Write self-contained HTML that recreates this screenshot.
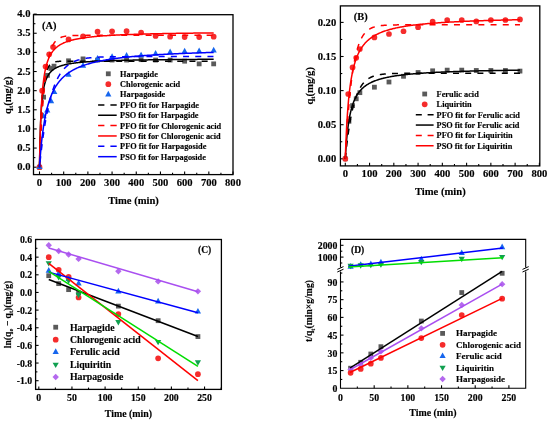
<!DOCTYPE html>
<html><head><meta charset="utf-8"><style>
html,body{margin:0;padding:0;background:#fff;}
svg{display:block;filter:blur(0.45px);}
text{font-family:"Liberation Serif","DejaVu Serif",serif;font-weight:bold;fill:#000;stroke:#000;stroke-width:0.15px;}
</style></head><body>
<svg width="550" height="421" viewBox="0 0 550 421">
<rect width="550" height="421" fill="#fff"/>
<rect x="33.5" y="14.7" width="199.5" height="159.9" fill="none" stroke="#000" stroke-width="1.3"/>
<line x1="33.5" y1="167.2" x2="36.7" y2="167.2" stroke="#000" stroke-width="1.1" stroke-linecap="butt"/>
<text x="30.5" y="170.3" font-size="10.6" text-anchor="end">0.0</text>
<line x1="33.5" y1="157.63" x2="35.4" y2="157.63" stroke="#000" stroke-width="1.1" stroke-linecap="butt"/>
<line x1="33.5" y1="148.06" x2="36.7" y2="148.06" stroke="#000" stroke-width="1.1" stroke-linecap="butt"/>
<text x="30.5" y="151.16" font-size="10.6" text-anchor="end">0.5</text>
<line x1="33.5" y1="138.5" x2="35.4" y2="138.5" stroke="#000" stroke-width="1.1" stroke-linecap="butt"/>
<line x1="33.5" y1="128.93" x2="36.7" y2="128.93" stroke="#000" stroke-width="1.1" stroke-linecap="butt"/>
<text x="30.5" y="132.03" font-size="10.6" text-anchor="end">1.0</text>
<line x1="33.5" y1="119.36" x2="35.4" y2="119.36" stroke="#000" stroke-width="1.1" stroke-linecap="butt"/>
<line x1="33.5" y1="109.79" x2="36.7" y2="109.79" stroke="#000" stroke-width="1.1" stroke-linecap="butt"/>
<text x="30.5" y="112.89" font-size="10.6" text-anchor="end">1.5</text>
<line x1="33.5" y1="100.23" x2="35.4" y2="100.23" stroke="#000" stroke-width="1.1" stroke-linecap="butt"/>
<line x1="33.5" y1="90.66" x2="36.7" y2="90.66" stroke="#000" stroke-width="1.1" stroke-linecap="butt"/>
<text x="30.5" y="93.76" font-size="10.6" text-anchor="end">2.0</text>
<line x1="33.5" y1="81.09" x2="35.4" y2="81.09" stroke="#000" stroke-width="1.1" stroke-linecap="butt"/>
<line x1="33.5" y1="71.52" x2="36.7" y2="71.52" stroke="#000" stroke-width="1.1" stroke-linecap="butt"/>
<text x="30.5" y="74.62" font-size="10.6" text-anchor="end">2.5</text>
<line x1="33.5" y1="61.96" x2="35.4" y2="61.96" stroke="#000" stroke-width="1.1" stroke-linecap="butt"/>
<line x1="33.5" y1="52.39" x2="36.7" y2="52.39" stroke="#000" stroke-width="1.1" stroke-linecap="butt"/>
<text x="30.5" y="55.49" font-size="10.6" text-anchor="end">3.0</text>
<line x1="33.5" y1="42.82" x2="35.4" y2="42.82" stroke="#000" stroke-width="1.1" stroke-linecap="butt"/>
<line x1="33.5" y1="33.25" x2="36.7" y2="33.25" stroke="#000" stroke-width="1.1" stroke-linecap="butt"/>
<text x="30.5" y="36.35" font-size="10.6" text-anchor="end">3.5</text>
<line x1="33.5" y1="23.69" x2="35.4" y2="23.69" stroke="#000" stroke-width="1.1" stroke-linecap="butt"/>
<line x1="33.5" y1="14.12" x2="36.7" y2="14.12" stroke="#000" stroke-width="1.1" stroke-linecap="butt"/>
<text x="30.5" y="17.22" font-size="10.6" text-anchor="end">4.0</text>
<line x1="39.5" y1="174.6" x2="39.5" y2="171.4" stroke="#000" stroke-width="1.1" stroke-linecap="butt"/>
<text x="39.5" y="186.2" font-size="10.6" text-anchor="middle">0</text>
<line x1="51.59" y1="174.6" x2="51.59" y2="172.7" stroke="#000" stroke-width="1.1" stroke-linecap="butt"/>
<line x1="63.69" y1="174.6" x2="63.69" y2="171.4" stroke="#000" stroke-width="1.1" stroke-linecap="butt"/>
<text x="63.69" y="186.2" font-size="10.6" text-anchor="middle">100</text>
<line x1="75.78" y1="174.6" x2="75.78" y2="172.7" stroke="#000" stroke-width="1.1" stroke-linecap="butt"/>
<line x1="87.88" y1="174.6" x2="87.88" y2="171.4" stroke="#000" stroke-width="1.1" stroke-linecap="butt"/>
<text x="87.88" y="186.2" font-size="10.6" text-anchor="middle">200</text>
<line x1="99.97" y1="174.6" x2="99.97" y2="172.7" stroke="#000" stroke-width="1.1" stroke-linecap="butt"/>
<line x1="112.07" y1="174.6" x2="112.07" y2="171.4" stroke="#000" stroke-width="1.1" stroke-linecap="butt"/>
<text x="112.07" y="186.2" font-size="10.6" text-anchor="middle">300</text>
<line x1="124.17" y1="174.6" x2="124.17" y2="172.7" stroke="#000" stroke-width="1.1" stroke-linecap="butt"/>
<line x1="136.26" y1="174.6" x2="136.26" y2="171.4" stroke="#000" stroke-width="1.1" stroke-linecap="butt"/>
<text x="136.26" y="186.2" font-size="10.6" text-anchor="middle">400</text>
<line x1="148.36" y1="174.6" x2="148.36" y2="172.7" stroke="#000" stroke-width="1.1" stroke-linecap="butt"/>
<line x1="160.45" y1="174.6" x2="160.45" y2="171.4" stroke="#000" stroke-width="1.1" stroke-linecap="butt"/>
<text x="160.45" y="186.2" font-size="10.6" text-anchor="middle">500</text>
<line x1="172.55" y1="174.6" x2="172.55" y2="172.7" stroke="#000" stroke-width="1.1" stroke-linecap="butt"/>
<line x1="184.64" y1="174.6" x2="184.64" y2="171.4" stroke="#000" stroke-width="1.1" stroke-linecap="butt"/>
<text x="184.64" y="186.2" font-size="10.6" text-anchor="middle">600</text>
<line x1="196.74" y1="174.6" x2="196.74" y2="172.7" stroke="#000" stroke-width="1.1" stroke-linecap="butt"/>
<line x1="208.83" y1="174.6" x2="208.83" y2="171.4" stroke="#000" stroke-width="1.1" stroke-linecap="butt"/>
<text x="208.83" y="186.2" font-size="10.6" text-anchor="middle">700</text>
<line x1="220.93" y1="174.6" x2="220.93" y2="172.7" stroke="#000" stroke-width="1.1" stroke-linecap="butt"/>
<line x1="233.02" y1="174.6" x2="233.02" y2="171.4" stroke="#000" stroke-width="1.1" stroke-linecap="butt"/>
<text x="233.02" y="186.2" font-size="10.6" text-anchor="middle">800</text>
<text transform="translate(133.5,204) scale(1,1.05)" font-size="10.6" text-anchor="middle">Time (min)</text>
<text transform="translate(11.0,95.2) rotate(-90)" font-size="10.6" text-anchor="middle">q<tspan font-size="6.5" dy="2">t</tspan><tspan dy="-2">(mg/g)</tspan></text>
<text x="42.1" y="29.2" font-size="10.4" text-anchor="start">(A)</text>
<rect x="37.1" y="164.8" width="4.8" height="4.8" fill="#5a5a5a"/>
<rect x="41.21" y="94.77" width="4.8" height="4.8" fill="#5a5a5a"/>
<rect x="45.08" y="72.95" width="4.8" height="4.8" fill="#5a5a5a"/>
<rect x="48.47" y="66.06" width="4.8" height="4.8" fill="#5a5a5a"/>
<rect x="51.61" y="63.77" width="4.8" height="4.8" fill="#5a5a5a"/>
<rect x="66.13" y="58.41" width="4.8" height="4.8" fill="#5a5a5a"/>
<rect x="80.64" y="56.5" width="4.8" height="4.8" fill="#5a5a5a"/>
<rect x="95.16" y="57.64" width="4.8" height="4.8" fill="#5a5a5a"/>
<rect x="109.67" y="57.64" width="4.8" height="4.8" fill="#5a5a5a"/>
<rect x="124.18" y="57.64" width="4.8" height="4.8" fill="#5a5a5a"/>
<rect x="138.7" y="57.26" width="4.8" height="4.8" fill="#5a5a5a"/>
<rect x="153.21" y="57.64" width="4.8" height="4.8" fill="#5a5a5a"/>
<rect x="167.73" y="57.64" width="4.8" height="4.8" fill="#5a5a5a"/>
<rect x="182.24" y="58.79" width="4.8" height="4.8" fill="#5a5a5a"/>
<rect x="196.75" y="61.47" width="4.8" height="4.8" fill="#5a5a5a"/>
<rect x="211.27" y="61.47" width="4.8" height="4.8" fill="#5a5a5a"/>
<circle cx="39.5" cy="167.2" r="2.85" fill="#f52c2c"/>
<circle cx="42.16" cy="90.66" r="2.85" fill="#f52c2c"/>
<circle cx="45.55" cy="66.55" r="2.85" fill="#f52c2c"/>
<circle cx="49.18" cy="54.3" r="2.85" fill="#f52c2c"/>
<circle cx="53.05" cy="47.03" r="2.85" fill="#f52c2c"/>
<circle cx="68.53" cy="39.38" r="2.85" fill="#f52c2c"/>
<circle cx="83.04" cy="36.32" r="2.85" fill="#f52c2c"/>
<circle cx="97.56" cy="31.72" r="2.85" fill="#f52c2c"/>
<circle cx="112.07" cy="31.34" r="2.85" fill="#f52c2c"/>
<circle cx="126.58" cy="31.15" r="2.85" fill="#f52c2c"/>
<circle cx="141.1" cy="32.49" r="2.85" fill="#f52c2c"/>
<circle cx="155.61" cy="35.93" r="2.85" fill="#f52c2c"/>
<circle cx="170.13" cy="36.7" r="2.85" fill="#f52c2c"/>
<circle cx="184.64" cy="37.08" r="2.85" fill="#f52c2c"/>
<circle cx="199.15" cy="37.08" r="2.85" fill="#f52c2c"/>
<circle cx="213.67" cy="36.7" r="2.85" fill="#f52c2c"/>
<polygon points="39.5,163.4 42.6,169.1 36.4,169.1" fill="#1666ee"/>
<polygon points="43.61,112.5 46.71,118.2 40.51,118.2" fill="#1666ee"/>
<polygon points="47.24,106.76 50.34,112.46 44.14,112.46" fill="#1666ee"/>
<polygon points="51.11,97.58 54.21,103.28 48.01,103.28" fill="#1666ee"/>
<polygon points="54.26,88.39 57.36,94.09 51.16,94.09" fill="#1666ee"/>
<polygon points="68.53,71.17 71.63,76.87 65.43,76.87" fill="#1666ee"/>
<polygon points="83.04,61.98 86.14,67.68 79.94,67.68" fill="#1666ee"/>
<polygon points="97.56,55.1 100.66,60.8 94.46,60.8" fill="#1666ee"/>
<polygon points="112.07,53.18 115.17,58.88 108.97,58.88" fill="#1666ee"/>
<polygon points="126.58,52.03 129.68,57.73 123.48,57.73" fill="#1666ee"/>
<polygon points="141.1,51.65 144.2,57.35 138,57.35" fill="#1666ee"/>
<polygon points="155.61,50.12 158.71,55.82 152.51,55.82" fill="#1666ee"/>
<polygon points="170.13,48.59 173.23,54.29 167.03,54.29" fill="#1666ee"/>
<polygon points="184.64,47.82 187.74,53.52 181.54,53.52" fill="#1666ee"/>
<polygon points="199.15,47.44 202.25,53.14 196.05,53.14" fill="#1666ee"/>
<polygon points="213.67,46.68 216.77,52.38 210.57,52.38" fill="#1666ee"/>
<polyline points="39.5,167.2 39.5,167.1 39.51,166.79 39.53,166.27 39.55,165.56 39.58,164.65 39.61,163.54 39.65,162.25 39.69,160.79 39.74,159.15 39.8,157.35 39.87,155.4 39.94,153.31 40.01,151.1 40.09,148.76 40.18,146.32 40.27,143.78 40.37,141.17 40.48,138.49 40.59,135.75 40.71,132.97 40.83,130.15 40.96,127.32 41.1,124.48 41.24,121.65 41.39,118.83 41.54,116.03 41.7,113.27 41.87,110.55 42.04,107.88 42.22,105.27 42.41,102.73 42.6,100.25 42.79,97.85 43,95.54 43.2,93.3 43.42,91.15 43.64,89.1 43.87,87.13 44.1,85.25 44.34,83.47 44.58,81.78 44.83,80.18 45.09,78.67 45.35,77.25 45.62,75.91 45.9,74.66 46.18,73.49 46.47,72.41 46.76,71.39 47.06,70.45 47.36,69.59 47.68,68.78 47.99,68.05 48.32,67.37 48.65,66.74 48.98,66.17 49.32,65.65 49.67,65.18 50.03,64.75 50.39,64.36 50.75,64.01 51.12,63.69 51.5,63.4 51.89,63.15 52.28,62.92 52.67,62.71 53.07,62.52 53.48,62.36 53.9,62.21 54.32,62.08 54.74,61.97 55.18,61.87 55.61,61.78 56.06,61.7 56.51,61.63 56.97,61.57 57.43,61.52 57.9,61.47 58.37,61.43 58.85,61.4 59.34,61.37 59.83,61.34 60.33,61.32 60.84,61.3 61.35,61.28 61.86,61.27 62.39,61.26 62.92,61.25 63.45,61.24 63.99,61.23 64.54,61.23 65.09,61.22 65.65,61.22 66.22,61.21 66.79,61.21 67.37,61.21 67.95,61.2 68.54,61.2 69.14,61.2 69.74,61.2 70.35,61.2 70.96,61.2 71.58,61.2 72.2,61.19 72.84,61.19 73.47,61.19 74.12,61.19 74.77,61.19 75.43,61.19 76.09,61.19 76.76,61.19 77.43,61.19 78.11,61.19 78.8,61.19 79.49,61.19 80.19,61.19 80.89,61.19 81.6,61.19 82.32,61.19 83.04,61.19 83.77,61.19 84.51,61.19 85.25,61.19 85.99,61.19 86.75,61.19 87.51,61.19 88.27,61.19 89.04,61.19 89.82,61.19 90.6,61.19 91.39,61.19 92.19,61.19 92.99,61.19 93.79,61.19 94.61,61.19 95.43,61.19 96.25,61.19 97.08,61.19 97.92,61.19 98.77,61.19 99.62,61.19 100.47,61.19 101.33,61.19 102.2,61.19 103.07,61.19 103.95,61.19 104.84,61.19 105.73,61.19 106.63,61.19 107.53,61.19 108.44,61.19 109.36,61.19 110.28,61.19 111.21,61.19 112.15,61.19 113.09,61.19 114.03,61.19 114.98,61.19 115.94,61.19 116.91,61.19 117.88,61.19 118.86,61.19 119.84,61.19 120.83,61.19 121.82,61.19 122.82,61.19 123.83,61.19 124.84,61.19 125.86,61.19 126.89,61.19 127.92,61.19 128.95,61.19 130,61.19 131.05,61.19 132.1,61.19 133.16,61.19 134.23,61.19 135.3,61.19 136.38,61.19 137.47,61.19 138.56,61.19 139.66,61.19 140.76,61.19 141.87,61.19 142.99,61.19 144.11,61.19 145.24,61.19 146.37,61.19 147.51,61.19 148.66,61.19 149.81,61.19 150.97,61.19 152.13,61.19 153.3,61.19 154.48,61.19 155.66,61.19 156.85,61.19 158.04,61.19 159.24,61.19 160.45,61.19 161.66,61.19 162.88,61.19 164.11,61.19 165.34,61.19 166.57,61.19 167.82,61.19 169.06,61.19 170.32,61.19 171.58,61.19 172.85,61.19 174.12,61.19 175.4,61.19 176.68,61.19 177.98,61.19 179.27,61.19 180.58,61.19 181.89,61.19 183.2,61.19 184.52,61.19 185.85,61.19 187.18,61.19 188.52,61.19 189.87,61.19 191.22,61.19 192.58,61.19 193.94,61.19 195.31,61.19 196.69,61.19 198.07,61.19 199.46,61.19 200.85,61.19 202.25,61.19 203.66,61.19 205.07,61.19 206.49,61.19 207.91,61.19 209.34,61.19 210.78,61.19 212.22,61.19 213.67,61.19" fill="none" stroke="#000" stroke-width="1.5" stroke-linejoin="round" stroke-dasharray="6,6.2"/>
<polyline points="39.5,167.2 39.5,166.99 39.51,166.38 39.53,165.38 39.55,164.01 39.58,162.29 39.61,160.27 39.65,157.98 39.69,155.46 39.74,152.76 39.8,149.91 39.87,146.95 39.94,143.92 40.01,140.86 40.09,137.79 40.18,134.73 40.27,131.72 40.37,128.76 40.48,125.87 40.59,123.06 40.71,120.34 40.83,117.72 40.96,115.2 41.1,112.78 41.24,110.47 41.39,108.25 41.54,106.14 41.7,104.12 41.87,102.21 42.04,100.38 42.22,98.64 42.41,96.99 42.6,95.42 42.79,93.93 43,92.51 43.2,91.17 43.42,89.89 43.64,88.67 43.87,87.52 44.1,86.42 44.34,85.38 44.58,84.38 44.83,83.44 45.09,82.54 45.35,81.69 45.62,80.87 45.9,80.09 46.18,79.35 46.47,78.65 46.76,77.97 47.06,77.33 47.36,76.71 47.68,76.13 47.99,75.57 48.32,75.03 48.65,74.52 48.98,74.02 49.32,73.55 49.67,73.1 50.03,72.67 50.39,72.26 50.75,71.86 51.12,71.48 51.5,71.11 51.89,70.76 52.28,70.42 52.67,70.09 53.07,69.78 53.48,69.48 53.9,69.19 54.32,68.91 54.74,68.64 55.18,68.38 55.61,68.13 56.06,67.89 56.51,67.66 56.97,67.43 57.43,67.22 57.9,67.01 58.37,66.81 58.85,66.61 59.34,66.42 59.83,66.24 60.33,66.06 60.84,65.89 61.35,65.72 61.86,65.56 62.39,65.41 62.92,65.26 63.45,65.11 63.99,64.97 64.54,64.83 65.09,64.7 65.65,64.57 66.22,64.44 66.79,64.32 67.37,64.2 67.95,64.09 68.54,63.98 69.14,63.87 69.74,63.76 70.35,63.66 70.96,63.56 71.58,63.46 72.2,63.37 72.84,63.28 73.47,63.19 74.12,63.1 74.77,63.02 75.43,62.93 76.09,62.85 76.76,62.77 77.43,62.7 78.11,62.62 78.8,62.55 79.49,62.48 80.19,62.41 80.89,62.34 81.6,62.28 82.32,62.21 83.04,62.15 83.77,62.09 84.51,62.03 85.25,61.97 85.99,61.91 86.75,61.86 87.51,61.8 88.27,61.75 89.04,61.7 89.82,61.64 90.6,61.59 91.39,61.55 92.19,61.5 92.99,61.45 93.79,61.41 94.61,61.36 95.43,61.32 96.25,61.27 97.08,61.23 97.92,61.19 98.77,61.15 99.62,61.11 100.47,61.07 101.33,61.03 102.2,61 103.07,60.96 103.95,60.93 104.84,60.89 105.73,60.86 106.63,60.82 107.53,60.79 108.44,60.76 109.36,60.73 110.28,60.69 111.21,60.66 112.15,60.63 113.09,60.6 114.03,60.58 114.98,60.55 115.94,60.52 116.91,60.49 117.88,60.47 118.86,60.44 119.84,60.41 120.83,60.39 121.82,60.36 122.82,60.34 123.83,60.31 124.84,60.29 125.86,60.27 126.89,60.24 127.92,60.22 128.95,60.2 130,60.18 131.05,60.16 132.1,60.14 133.16,60.12 134.23,60.09 135.3,60.07 136.38,60.06 137.47,60.04 138.56,60.02 139.66,60 140.76,59.98 141.87,59.96 142.99,59.94 144.11,59.93 145.24,59.91 146.37,59.89 147.51,59.88 148.66,59.86 149.81,59.84 150.97,59.83 152.13,59.81 153.3,59.8 154.48,59.78 155.66,59.77 156.85,59.75 158.04,59.74 159.24,59.72 160.45,59.71 161.66,59.69 162.88,59.68 164.11,59.67 165.34,59.65 166.57,59.64 167.82,59.63 169.06,59.61 170.32,59.6 171.58,59.59 172.85,59.58 174.12,59.56 175.4,59.55 176.68,59.54 177.98,59.53 179.27,59.52 180.58,59.51 181.89,59.5 183.2,59.48 184.52,59.47 185.85,59.46 187.18,59.45 188.52,59.44 189.87,59.43 191.22,59.42 192.58,59.41 193.94,59.4 195.31,59.39 196.69,59.38 198.07,59.37 199.46,59.36 200.85,59.35 202.25,59.35 203.66,59.34 205.07,59.33 206.49,59.32 207.91,59.31 209.34,59.3 210.78,59.29 212.22,59.28 213.67,59.28" fill="none" stroke="#000" stroke-width="1.5" stroke-linejoin="round"/>
<polyline points="39.5,167.2 39.5,167.12 39.51,166.89 39.53,166.5 39.55,165.97 39.58,165.28 39.61,164.44 39.65,163.46 39.69,162.33 39.74,161.07 39.8,159.68 39.87,158.15 39.94,156.51 40.01,154.74 40.09,152.86 40.18,150.88 40.27,148.79 40.37,146.61 40.48,144.35 40.59,142 40.71,139.59 40.83,137.11 40.96,134.57 41.1,131.98 41.24,129.35 41.39,126.68 41.54,123.99 41.7,121.27 41.87,118.54 42.04,115.8 42.22,113.06 42.41,110.32 42.6,107.6 42.79,104.89 43,102.21 43.2,99.55 43.42,96.93 43.64,94.35 43.87,91.8 44.1,89.31 44.34,86.86 44.58,84.47 44.83,82.13 45.09,79.85 45.35,77.63 45.62,75.48 45.9,73.39 46.18,71.37 46.47,69.42 46.76,67.53 47.06,65.71 47.36,63.96 47.68,62.28 47.99,60.67 48.32,59.13 48.65,57.66 48.98,56.25 49.32,54.91 49.67,53.63 50.03,52.42 50.39,51.26 50.75,50.17 51.12,49.14 51.5,48.16 51.89,47.24 52.28,46.38 52.67,45.56 53.07,44.79 53.48,44.07 53.9,43.4 54.32,42.77 54.74,42.18 55.18,41.63 55.61,41.12 56.06,40.64 56.51,40.2 56.97,39.79 57.43,39.41 57.9,39.06 58.37,38.73 58.85,38.43 59.34,38.15 59.83,37.9 60.33,37.66 60.84,37.45 61.35,37.25 61.86,37.07 62.39,36.9 62.92,36.75 63.45,36.62 63.99,36.49 64.54,36.38 65.09,36.27 65.65,36.18 66.22,36.09 66.79,36.02 67.37,35.95 67.95,35.88 68.54,35.83 69.14,35.78 69.74,35.73 70.35,35.69 70.96,35.65 71.58,35.62 72.2,35.59 72.84,35.56 73.47,35.54 74.12,35.52 74.77,35.5 75.43,35.48 76.09,35.47 76.76,35.45 77.43,35.44 78.11,35.43 78.8,35.42 79.49,35.42 80.19,35.41 80.89,35.4 81.6,35.4 82.32,35.39 83.04,35.39 83.77,35.38 84.51,35.38 85.25,35.38 85.99,35.38 86.75,35.37 87.51,35.37 88.27,35.37 89.04,35.37 89.82,35.37 90.6,35.37 91.39,35.37 92.19,35.36 92.99,35.36 93.79,35.36 94.61,35.36 95.43,35.36 96.25,35.36 97.08,35.36 97.92,35.36 98.77,35.36 99.62,35.36 100.47,35.36 101.33,35.36 102.2,35.36 103.07,35.36 103.95,35.36 104.84,35.36 105.73,35.36 106.63,35.36 107.53,35.36 108.44,35.36 109.36,35.36 110.28,35.36 111.21,35.36 112.15,35.36 113.09,35.36 114.03,35.36 114.98,35.36 115.94,35.36 116.91,35.36 117.88,35.36 118.86,35.36 119.84,35.36 120.83,35.36 121.82,35.36 122.82,35.36 123.83,35.36 124.84,35.36 125.86,35.36 126.89,35.36 127.92,35.36 128.95,35.36 130,35.36 131.05,35.36 132.1,35.36 133.16,35.36 134.23,35.36 135.3,35.36 136.38,35.36 137.47,35.36 138.56,35.36 139.66,35.36 140.76,35.36 141.87,35.36 142.99,35.36 144.11,35.36 145.24,35.36 146.37,35.36 147.51,35.36 148.66,35.36 149.81,35.36 150.97,35.36 152.13,35.36 153.3,35.36 154.48,35.36 155.66,35.36 156.85,35.36 158.04,35.36 159.24,35.36 160.45,35.36 161.66,35.36 162.88,35.36 164.11,35.36 165.34,35.36 166.57,35.36 167.82,35.36 169.06,35.36 170.32,35.36 171.58,35.36 172.85,35.36 174.12,35.36 175.4,35.36 176.68,35.36 177.98,35.36 179.27,35.36 180.58,35.36 181.89,35.36 183.2,35.36 184.52,35.36 185.85,35.36 187.18,35.36 188.52,35.36 189.87,35.36 191.22,35.36 192.58,35.36 193.94,35.36 195.31,35.36 196.69,35.36 198.07,35.36 199.46,35.36 200.85,35.36 202.25,35.36 203.66,35.36 205.07,35.36 206.49,35.36 207.91,35.36 209.34,35.36 210.78,35.36 212.22,35.36 213.67,35.36" fill="none" stroke="#ff0000" stroke-width="1.5" stroke-linejoin="round" stroke-dasharray="6,6.2"/>
<polyline points="39.5,167.2 39.5,167.02 39.51,166.49 39.53,165.61 39.55,164.4 39.58,162.88 39.61,161.06 39.65,158.98 39.69,156.65 39.74,154.12 39.8,151.41 39.87,148.55 39.94,145.57 40.01,142.49 40.09,139.35 40.18,136.17 40.27,132.97 40.37,129.78 40.48,126.6 40.59,123.45 40.71,120.35 40.83,117.31 40.96,114.33 41.1,111.43 41.24,108.61 41.39,105.87 41.54,103.22 41.7,100.66 41.87,98.18 42.04,95.8 42.22,93.5 42.41,91.29 42.6,89.17 42.79,87.13 43,85.17 43.2,83.3 43.42,81.5 43.64,79.77 43.87,78.12 44.1,76.53 44.34,75.01 44.58,73.56 44.83,72.16 45.09,70.82 45.35,69.54 45.62,68.32 45.9,67.14 46.18,66.01 46.47,64.93 46.76,63.89 47.06,62.9 47.36,61.94 47.68,61.03 47.99,60.15 48.32,59.3 48.65,58.49 48.98,57.71 49.32,56.96 49.67,56.24 50.03,55.55 50.39,54.88 50.75,54.24 51.12,53.62 51.5,53.03 51.89,52.46 52.28,51.9 52.67,51.37 53.07,50.86 53.48,50.36 53.9,49.89 54.32,49.42 54.74,48.98 55.18,48.55 55.61,48.13 56.06,47.73 56.51,47.35 56.97,46.97 57.43,46.61 57.9,46.26 58.37,45.92 58.85,45.59 59.34,45.27 59.83,44.96 60.33,44.66 60.84,44.37 61.35,44.09 61.86,43.82 62.39,43.56 62.92,43.3 63.45,43.05 63.99,42.81 64.54,42.58 65.09,42.35 65.65,42.13 66.22,41.91 66.79,41.71 67.37,41.5 67.95,41.31 68.54,41.11 69.14,40.93 69.74,40.75 70.35,40.57 70.96,40.4 71.58,40.23 72.2,40.07 72.84,39.91 73.47,39.75 74.12,39.6 74.77,39.46 75.43,39.31 76.09,39.17 76.76,39.04 77.43,38.9 78.11,38.77 78.8,38.65 79.49,38.52 80.19,38.4 80.89,38.29 81.6,38.17 82.32,38.06 83.04,37.95 83.77,37.84 84.51,37.74 85.25,37.64 85.99,37.54 86.75,37.44 87.51,37.34 88.27,37.25 89.04,37.16 89.82,37.07 90.6,36.98 91.39,36.9 92.19,36.81 92.99,36.73 93.79,36.65 94.61,36.57 95.43,36.5 96.25,36.42 97.08,36.35 97.92,36.27 98.77,36.2 99.62,36.13 100.47,36.07 101.33,36 102.2,35.93 103.07,35.87 103.95,35.81 104.84,35.75 105.73,35.69 106.63,35.63 107.53,35.57 108.44,35.51 109.36,35.46 110.28,35.4 111.21,35.35 112.15,35.29 113.09,35.24 114.03,35.19 114.98,35.14 115.94,35.09 116.91,35.05 117.88,35 118.86,34.95 119.84,34.91 120.83,34.86 121.82,34.82 122.82,34.77 123.83,34.73 124.84,34.69 125.86,34.65 126.89,34.61 127.92,34.57 128.95,34.53 130,34.49 131.05,34.45 132.1,34.42 133.16,34.38 134.23,34.34 135.3,34.31 136.38,34.27 137.47,34.24 138.56,34.2 139.66,34.17 140.76,34.14 141.87,34.11 142.99,34.08 144.11,34.04 145.24,34.01 146.37,33.98 147.51,33.95 148.66,33.92 149.81,33.9 150.97,33.87 152.13,33.84 153.3,33.81 154.48,33.79 155.66,33.76 156.85,33.73 158.04,33.71 159.24,33.68 160.45,33.66 161.66,33.63 162.88,33.61 164.11,33.58 165.34,33.56 166.57,33.54 167.82,33.51 169.06,33.49 170.32,33.47 171.58,33.44 172.85,33.42 174.12,33.4 175.4,33.38 176.68,33.36 177.98,33.34 179.27,33.32 180.58,33.3 181.89,33.28 183.2,33.26 184.52,33.24 185.85,33.22 187.18,33.2 188.52,33.18 189.87,33.17 191.22,33.15 192.58,33.13 193.94,33.11 195.31,33.09 196.69,33.08 198.07,33.06 199.46,33.04 200.85,33.03 202.25,33.01 203.66,33 205.07,32.98 206.49,32.96 207.91,32.95 209.34,32.93 210.78,32.92 212.22,32.9 213.67,32.89" fill="none" stroke="#ff0000" stroke-width="1.5" stroke-linejoin="round"/>
<polyline points="39.5,167.2 39.5,167.17 39.51,167.08 39.53,166.93 39.55,166.72 39.58,166.45 39.61,166.13 39.65,165.74 39.69,165.3 39.74,164.8 39.8,164.24 39.87,163.63 39.94,162.96 40.01,162.24 40.09,161.47 40.18,160.65 40.27,159.78 40.37,158.86 40.48,157.89 40.59,156.88 40.71,155.83 40.83,154.73 40.96,153.59 41.1,152.42 41.24,151.2 41.39,149.95 41.54,148.67 41.7,147.36 41.87,146.01 42.04,144.64 42.22,143.24 42.41,141.82 42.6,140.38 42.79,138.91 43,137.43 43.2,135.93 43.42,134.42 43.64,132.89 43.87,131.36 44.1,129.81 44.34,128.26 44.58,126.7 44.83,125.14 45.09,123.58 45.35,122.02 45.62,120.46 45.9,118.9 46.18,117.35 46.47,115.8 46.76,114.26 47.06,112.74 47.36,111.22 47.68,109.71 47.99,108.22 48.32,106.75 48.65,105.29 48.98,103.84 49.32,102.42 49.67,101.01 50.03,99.62 50.39,98.25 50.75,96.91 51.12,95.59 51.5,94.29 51.89,93.01 52.28,91.76 52.67,90.53 53.07,89.33 53.48,88.15 53.9,87 54.32,85.88 54.74,84.78 55.18,83.71 55.61,82.66 56.06,81.64 56.51,80.65 56.97,79.68 57.43,78.75 57.9,77.83 58.37,76.95 58.85,76.09 59.34,75.26 59.83,74.45 60.33,73.67 60.84,72.91 61.35,72.18 61.86,71.48 62.39,70.79 62.92,70.14 63.45,69.5 63.99,68.89 64.54,68.3 65.09,67.73 65.65,67.19 66.22,66.67 66.79,66.16 67.37,65.68 67.95,65.22 68.54,64.77 69.14,64.35 69.74,63.94 70.35,63.55 70.96,63.18 71.58,62.82 72.2,62.48 72.84,62.16 73.47,61.85 74.12,61.55 74.77,61.27 75.43,61.01 76.09,60.75 76.76,60.51 77.43,60.28 78.11,60.06 78.8,59.86 79.49,59.66 80.19,59.47 80.89,59.3 81.6,59.13 82.32,58.97 83.04,58.83 83.77,58.68 84.51,58.55 85.25,58.43 85.99,58.31 86.75,58.2 87.51,58.09 88.27,57.99 89.04,57.9 89.82,57.81 90.6,57.73 91.39,57.65 92.19,57.58 92.99,57.51 93.79,57.45 94.61,57.39 95.43,57.33 96.25,57.28 97.08,57.23 97.92,57.19 98.77,57.14 99.62,57.1 100.47,57.07 101.33,57.03 102.2,57 103.07,56.97 103.95,56.94 104.84,56.91 105.73,56.89 106.63,56.87 107.53,56.85 108.44,56.83 109.36,56.81 110.28,56.79 111.21,56.78 112.15,56.76 113.09,56.75 114.03,56.74 114.98,56.73 115.94,56.72 116.91,56.71 117.88,56.7 118.86,56.69 119.84,56.68 120.83,56.67 121.82,56.67 122.82,56.66 123.83,56.66 124.84,56.65 125.86,56.65 126.89,56.64 127.92,56.64 128.95,56.64 130,56.63 131.05,56.63 132.1,56.63 133.16,56.62 134.23,56.62 135.3,56.62 136.38,56.62 137.47,56.62 138.56,56.61 139.66,56.61 140.76,56.61 141.87,56.61 142.99,56.61 144.11,56.61 145.24,56.61 146.37,56.61 147.51,56.61 148.66,56.61 149.81,56.61 150.97,56.6 152.13,56.6 153.3,56.6 154.48,56.6 155.66,56.6 156.85,56.6 158.04,56.6 159.24,56.6 160.45,56.6 161.66,56.6 162.88,56.6 164.11,56.6 165.34,56.6 166.57,56.6 167.82,56.6 169.06,56.6 170.32,56.6 171.58,56.6 172.85,56.6 174.12,56.6 175.4,56.6 176.68,56.6 177.98,56.6 179.27,56.6 180.58,56.6 181.89,56.6 183.2,56.6 184.52,56.6 185.85,56.6 187.18,56.6 188.52,56.6 189.87,56.6 191.22,56.6 192.58,56.6 193.94,56.6 195.31,56.6 196.69,56.6 198.07,56.6 199.46,56.6 200.85,56.6 202.25,56.6 203.66,56.6 205.07,56.6 206.49,56.6 207.91,56.6 209.34,56.6 210.78,56.6 212.22,56.6 213.67,56.6" fill="none" stroke="#0000ff" stroke-width="1.5" stroke-linejoin="round" stroke-dasharray="6,6.2" stroke-dashoffset="-5"/>
<polyline points="39.5,167.2 39.5,167.15 39.51,167.02 39.53,166.79 39.55,166.47 39.58,166.06 39.61,165.57 39.65,164.99 39.69,164.33 39.74,163.59 39.8,162.78 39.87,161.89 39.94,160.93 40.01,159.91 40.09,158.83 40.18,157.69 40.27,156.5 40.37,155.25 40.48,153.97 40.59,152.64 40.71,151.27 40.83,149.88 40.96,148.45 41.1,147 41.24,145.53 41.39,144.04 41.54,142.54 41.7,141.03 41.87,139.51 42.04,137.99 42.22,136.47 42.41,134.94 42.6,133.42 42.79,131.91 43,130.4 43.2,128.91 43.42,127.42 43.64,125.95 43.87,124.5 44.1,123.06 44.34,121.64 44.58,120.23 44.83,118.85 45.09,117.48 45.35,116.14 45.62,114.82 45.9,113.51 46.18,112.24 46.47,110.98 46.76,109.75 47.06,108.53 47.36,107.35 47.68,106.18 47.99,105.04 48.32,103.92 48.65,102.82 48.98,101.75 49.32,100.7 49.67,99.67 50.03,98.66 50.39,97.68 50.75,96.71 51.12,95.77 51.5,94.85 51.89,93.94 52.28,93.06 52.67,92.2 53.07,91.36 53.48,90.53 53.9,89.73 54.32,88.94 54.74,88.17 55.18,87.42 55.61,86.69 56.06,85.97 56.51,85.27 56.97,84.58 57.43,83.91 57.9,83.26 58.37,82.62 58.85,81.99 59.34,81.38 59.83,80.78 60.33,80.2 60.84,79.63 61.35,79.07 61.86,78.53 62.39,78 62.92,77.48 63.45,76.97 63.99,76.47 64.54,75.98 65.09,75.51 65.65,75.04 66.22,74.59 66.79,74.14 67.37,73.71 67.95,73.28 68.54,72.86 69.14,72.46 69.74,72.06 70.35,71.67 70.96,71.29 71.58,70.91 72.2,70.55 72.84,70.19 73.47,69.84 74.12,69.5 74.77,69.16 75.43,68.83 76.09,68.51 76.76,68.19 77.43,67.88 78.11,67.58 78.8,67.28 79.49,66.99 80.19,66.71 80.89,66.43 81.6,66.16 82.32,65.89 83.04,65.63 83.77,65.37 84.51,65.12 85.25,64.87 85.99,64.63 86.75,64.39 87.51,64.15 88.27,63.93 89.04,63.7 89.82,63.48 90.6,63.26 91.39,63.05 92.19,62.84 92.99,62.64 93.79,62.44 94.61,62.24 95.43,62.05 96.25,61.86 97.08,61.67 97.92,61.49 98.77,61.31 99.62,61.13 100.47,60.96 101.33,60.79 102.2,60.62 103.07,60.46 103.95,60.3 104.84,60.14 105.73,59.98 106.63,59.83 107.53,59.68 108.44,59.53 109.36,59.39 110.28,59.24 111.21,59.1 112.15,58.96 113.09,58.83 114.03,58.69 114.98,58.56 115.94,58.43 116.91,58.31 117.88,58.18 118.86,58.06 119.84,57.94 120.83,57.82 121.82,57.7 122.82,57.59 123.83,57.47 124.84,57.36 125.86,57.25 126.89,57.14 127.92,57.03 128.95,56.93 130,56.83 131.05,56.72 132.1,56.62 133.16,56.53 134.23,56.43 135.3,56.33 136.38,56.24 137.47,56.15 138.56,56.05 139.66,55.96 140.76,55.88 141.87,55.79 142.99,55.7 144.11,55.62 145.24,55.53 146.37,55.45 147.51,55.37 148.66,55.29 149.81,55.21 150.97,55.13 152.13,55.06 153.3,54.98 154.48,54.91 155.66,54.83 156.85,54.76 158.04,54.69 159.24,54.62 160.45,54.55 161.66,54.48 162.88,54.41 164.11,54.35 165.34,54.28 166.57,54.21 167.82,54.15 169.06,54.09 170.32,54.02 171.58,53.96 172.85,53.9 174.12,53.84 175.4,53.78 176.68,53.72 177.98,53.67 179.27,53.61 180.58,53.55 181.89,53.5 183.2,53.44 184.52,53.39 185.85,53.34 187.18,53.28 188.52,53.23 189.87,53.18 191.22,53.13 192.58,53.08 193.94,53.03 195.31,52.98 196.69,52.93 198.07,52.88 199.46,52.84 200.85,52.79 202.25,52.74 203.66,52.7 205.07,52.65 206.49,52.61 207.91,52.57 209.34,52.52 210.78,52.48 212.22,52.44 213.67,52.4" fill="none" stroke="#0000ff" stroke-width="1.5" stroke-linejoin="round"/>
<rect x="105.9" y="71.4" width="4.8" height="4.8" fill="#5a5a5a"/>
<text transform="translate(120.1,76.7) scale(1,1.06)" font-size="8.3" text-anchor="start">Harpagide</text>
<circle cx="108.3" cy="84.16" r="2.85" fill="#f52c2c"/>
<text transform="translate(120.1,87.06) scale(1,1.06)" font-size="8.3" text-anchor="start">Chlorogenic acid</text>
<polygon points="108.3,90.72 111.4,96.42 105.2,96.42" fill="#1666ee"/>
<text transform="translate(120.1,97.42) scale(1,1.06)" font-size="8.3" text-anchor="start">Harpagoside</text>
<line x1="98.1" y1="104.88" x2="116.7" y2="104.88" stroke="#000" stroke-width="1.5" stroke-linecap="butt" stroke-dasharray="6.3,6"/>
<text transform="translate(120.1,107.78) scale(1,1.06)" font-size="8.3" text-anchor="start">PFO fit for Harpagide</text>
<line x1="98.1" y1="115.24" x2="116.7" y2="115.24" stroke="#000" stroke-width="1.5" stroke-linecap="butt"/>
<text transform="translate(120.1,118.14) scale(1,1.06)" font-size="8.3" text-anchor="start">PSO fit for Harpagide</text>
<line x1="98.1" y1="125.6" x2="116.7" y2="125.6" stroke="#ff0000" stroke-width="1.5" stroke-linecap="butt" stroke-dasharray="6.3,6"/>
<text transform="translate(120.1,128.5) scale(1,1.06)" font-size="8.3" text-anchor="start">PFO fit for Chlorogenic acid</text>
<line x1="98.1" y1="135.96" x2="116.7" y2="135.96" stroke="#ff0000" stroke-width="1.5" stroke-linecap="butt"/>
<text transform="translate(120.1,138.86) scale(1,1.06)" font-size="8.3" text-anchor="start">PSO fit for Chlorogenic acid</text>
<line x1="98.1" y1="146.32" x2="116.7" y2="146.32" stroke="#0000ff" stroke-width="1.5" stroke-linecap="butt" stroke-dasharray="6.3,6"/>
<text transform="translate(120.1,149.22) scale(1,1.06)" font-size="8.3" text-anchor="start">PFO fit for Harpagoside</text>
<line x1="98.1" y1="156.68" x2="116.7" y2="156.68" stroke="#0000ff" stroke-width="1.5" stroke-linecap="butt"/>
<text transform="translate(120.1,159.58) scale(1,1.06)" font-size="8.3" text-anchor="start">PSO fit for Harpagoside</text>
<rect x="340.4" y="5.9" width="199.4" height="160" fill="none" stroke="#000" stroke-width="1.3"/>
<line x1="340.4" y1="158.8" x2="343.6" y2="158.8" stroke="#000" stroke-width="1.1" stroke-linecap="butt"/>
<text x="336.2" y="162.2" font-size="10.6" text-anchor="end">0.00</text>
<line x1="340.4" y1="141.75" x2="342.3" y2="141.75" stroke="#000" stroke-width="1.1" stroke-linecap="butt"/>
<line x1="340.4" y1="124.7" x2="343.6" y2="124.7" stroke="#000" stroke-width="1.1" stroke-linecap="butt"/>
<text x="336.2" y="128.1" font-size="10.6" text-anchor="end">0.05</text>
<line x1="340.4" y1="107.65" x2="342.3" y2="107.65" stroke="#000" stroke-width="1.1" stroke-linecap="butt"/>
<line x1="340.4" y1="90.6" x2="343.6" y2="90.6" stroke="#000" stroke-width="1.1" stroke-linecap="butt"/>
<text x="336.2" y="94" font-size="10.6" text-anchor="end">0.10</text>
<line x1="340.4" y1="73.55" x2="342.3" y2="73.55" stroke="#000" stroke-width="1.1" stroke-linecap="butt"/>
<line x1="340.4" y1="56.5" x2="343.6" y2="56.5" stroke="#000" stroke-width="1.1" stroke-linecap="butt"/>
<text x="336.2" y="59.9" font-size="10.6" text-anchor="end">0.15</text>
<line x1="340.4" y1="39.45" x2="342.3" y2="39.45" stroke="#000" stroke-width="1.1" stroke-linecap="butt"/>
<line x1="340.4" y1="22.4" x2="343.6" y2="22.4" stroke="#000" stroke-width="1.1" stroke-linecap="butt"/>
<text x="336.2" y="25.8" font-size="10.6" text-anchor="end">0.20</text>
<line x1="345.3" y1="165.9" x2="345.3" y2="162.7" stroke="#000" stroke-width="1.1" stroke-linecap="butt"/>
<text x="345.3" y="177.4" font-size="10.6" text-anchor="middle">0</text>
<line x1="357.43" y1="165.9" x2="357.43" y2="164" stroke="#000" stroke-width="1.1" stroke-linecap="butt"/>
<line x1="369.56" y1="165.9" x2="369.56" y2="162.7" stroke="#000" stroke-width="1.1" stroke-linecap="butt"/>
<text x="369.56" y="177.4" font-size="10.6" text-anchor="middle">100</text>
<line x1="381.69" y1="165.9" x2="381.69" y2="164" stroke="#000" stroke-width="1.1" stroke-linecap="butt"/>
<line x1="393.82" y1="165.9" x2="393.82" y2="162.7" stroke="#000" stroke-width="1.1" stroke-linecap="butt"/>
<text x="393.82" y="177.4" font-size="10.6" text-anchor="middle">200</text>
<line x1="405.95" y1="165.9" x2="405.95" y2="164" stroke="#000" stroke-width="1.1" stroke-linecap="butt"/>
<line x1="418.08" y1="165.9" x2="418.08" y2="162.7" stroke="#000" stroke-width="1.1" stroke-linecap="butt"/>
<text x="418.08" y="177.4" font-size="10.6" text-anchor="middle">300</text>
<line x1="430.21" y1="165.9" x2="430.21" y2="164" stroke="#000" stroke-width="1.1" stroke-linecap="butt"/>
<line x1="442.34" y1="165.9" x2="442.34" y2="162.7" stroke="#000" stroke-width="1.1" stroke-linecap="butt"/>
<text x="442.34" y="177.4" font-size="10.6" text-anchor="middle">400</text>
<line x1="454.47" y1="165.9" x2="454.47" y2="164" stroke="#000" stroke-width="1.1" stroke-linecap="butt"/>
<line x1="466.6" y1="165.9" x2="466.6" y2="162.7" stroke="#000" stroke-width="1.1" stroke-linecap="butt"/>
<text x="466.6" y="177.4" font-size="10.6" text-anchor="middle">500</text>
<line x1="478.73" y1="165.9" x2="478.73" y2="164" stroke="#000" stroke-width="1.1" stroke-linecap="butt"/>
<line x1="490.86" y1="165.9" x2="490.86" y2="162.7" stroke="#000" stroke-width="1.1" stroke-linecap="butt"/>
<text x="490.86" y="177.4" font-size="10.6" text-anchor="middle">600</text>
<line x1="502.99" y1="165.9" x2="502.99" y2="164" stroke="#000" stroke-width="1.1" stroke-linecap="butt"/>
<line x1="515.12" y1="165.9" x2="515.12" y2="162.7" stroke="#000" stroke-width="1.1" stroke-linecap="butt"/>
<text x="515.12" y="177.4" font-size="10.6" text-anchor="middle">700</text>
<line x1="527.25" y1="165.9" x2="527.25" y2="164" stroke="#000" stroke-width="1.1" stroke-linecap="butt"/>
<line x1="539.38" y1="165.9" x2="539.38" y2="162.7" stroke="#000" stroke-width="1.1" stroke-linecap="butt"/>
<text x="539.38" y="177.4" font-size="10.6" text-anchor="middle">800</text>
<text transform="translate(440.3,195.4) scale(1,1.05)" font-size="10.6" text-anchor="middle">Time (min)</text>
<text transform="translate(313.4,85.8) rotate(-90)" font-size="10.6" text-anchor="middle">q<tspan font-size="6.5" dy="2">t</tspan><tspan dy="-2">(mg/g)</tspan></text>
<text x="353.8" y="20.4" font-size="10.4" text-anchor="start">(B)</text>
<rect x="342.9" y="156.4" width="4.8" height="4.8" fill="#5a5a5a"/>
<rect x="346.54" y="118.89" width="4.8" height="4.8" fill="#5a5a5a"/>
<rect x="350.18" y="103.2" width="4.8" height="4.8" fill="#5a5a5a"/>
<rect x="353.82" y="96.38" width="4.8" height="4.8" fill="#5a5a5a"/>
<rect x="357.46" y="90.25" width="4.8" height="4.8" fill="#5a5a5a"/>
<rect x="372.01" y="84.79" width="4.8" height="4.8" fill="#5a5a5a"/>
<rect x="386.57" y="79.61" width="4.8" height="4.8" fill="#5a5a5a"/>
<rect x="401.12" y="73.88" width="4.8" height="4.8" fill="#5a5a5a"/>
<rect x="415.68" y="70.13" width="4.8" height="4.8" fill="#5a5a5a"/>
<rect x="430.24" y="68.42" width="4.8" height="4.8" fill="#5a5a5a"/>
<rect x="444.79" y="67.74" width="4.8" height="4.8" fill="#5a5a5a"/>
<rect x="459.35" y="67.74" width="4.8" height="4.8" fill="#5a5a5a"/>
<rect x="473.9" y="68.08" width="4.8" height="4.8" fill="#5a5a5a"/>
<rect x="488.46" y="68.08" width="4.8" height="4.8" fill="#5a5a5a"/>
<rect x="503.02" y="68.08" width="4.8" height="4.8" fill="#5a5a5a"/>
<rect x="517.57" y="68.69" width="4.8" height="4.8" fill="#5a5a5a"/>
<circle cx="345.3" cy="158.8" r="2.85" fill="#f52c2c"/>
<circle cx="348.21" cy="94.01" r="2.85" fill="#f52c2c"/>
<circle cx="352.58" cy="67.41" r="2.85" fill="#f52c2c"/>
<circle cx="356.22" cy="57.86" r="2.85" fill="#f52c2c"/>
<circle cx="359.86" cy="49" r="2.85" fill="#f52c2c"/>
<circle cx="374.41" cy="37.4" r="2.85" fill="#f52c2c"/>
<circle cx="388.97" cy="33.99" r="2.85" fill="#f52c2c"/>
<circle cx="403.52" cy="31.27" r="2.85" fill="#f52c2c"/>
<circle cx="418.08" cy="27.17" r="2.85" fill="#f52c2c"/>
<circle cx="432.64" cy="21.72" r="2.85" fill="#f52c2c"/>
<circle cx="447.19" cy="20.01" r="2.85" fill="#f52c2c"/>
<circle cx="461.75" cy="20.01" r="2.85" fill="#f52c2c"/>
<circle cx="476.3" cy="21.38" r="2.85" fill="#f52c2c"/>
<circle cx="490.86" cy="20.01" r="2.85" fill="#f52c2c"/>
<circle cx="505.42" cy="20.01" r="2.85" fill="#f52c2c"/>
<circle cx="519.97" cy="19.4" r="2.85" fill="#f52c2c"/>
<polyline points="345.3,158.8 345.3,158.77 345.31,158.68 345.33,158.52 345.35,158.31 345.38,158.03 345.41,157.69 345.45,157.29 345.49,156.84 345.55,156.33 345.6,155.76 345.67,155.13 345.74,154.45 345.81,153.72 345.89,152.93 345.98,152.1 346.08,151.22 346.18,150.29 346.28,149.32 346.39,148.31 346.51,147.26 346.64,146.16 346.77,145.04 346.9,143.88 347.05,142.68 347.2,141.46 347.35,140.21 347.51,138.94 347.68,137.64 347.85,136.33 348.03,134.99 348.21,133.64 348.41,132.28 348.6,130.91 348.81,129.52 349.01,128.13 349.23,126.74 349.45,125.34 349.68,123.95 349.91,122.55 350.15,121.16 350.4,119.78 350.65,118.4 350.91,117.03 351.17,115.67 351.44,114.32 351.72,112.99 352,111.68 352.29,110.38 352.58,109.09 352.88,107.83 353.19,106.59 353.5,105.37 353.82,104.17 354.14,102.99 354.47,101.84 354.81,100.72 355.15,99.62 355.5,98.54 355.86,97.49 356.22,96.47 356.58,95.47 356.96,94.51 357.34,93.57 357.72,92.65 358.11,91.77 358.51,90.91 358.91,90.08 359.32,89.28 359.74,88.5 360.16,87.75 360.59,87.03 361.02,86.34 361.46,85.67 361.91,85.03 362.36,84.41 362.82,83.82 363.28,83.25 363.75,82.7 364.23,82.18 364.71,81.68 365.2,81.21 365.69,80.75 366.19,80.32 366.7,79.9 367.21,79.51 367.73,79.13 368.25,78.78 368.78,78.44 369.32,78.12 369.86,77.82 370.41,77.53 370.97,77.25 371.53,77 372.1,76.75 372.67,76.52 373.25,76.31 373.83,76.1 374.42,75.91 375.02,75.73 375.62,75.56 376.23,75.4 376.85,75.25 377.47,75.1 378.1,74.97 378.73,74.85 379.37,74.73 380.02,74.63 380.67,74.52 381.33,74.43 381.99,74.34 382.66,74.26 383.34,74.18 384.02,74.11 384.71,74.05 385.4,73.99 386.11,73.93 386.81,73.88 387.52,73.83 388.24,73.78 388.97,73.74 389.7,73.7 390.44,73.67 391.18,73.63 391.93,73.6 392.68,73.57 393.44,73.55 394.21,73.52 394.98,73.5 395.76,73.48 396.55,73.46 397.34,73.45 398.14,73.43 398.94,73.42 399.75,73.4 400.57,73.39 401.39,73.38 402.22,73.37 403.05,73.36 403.89,73.35 404.74,73.35 405.59,73.34 406.45,73.33 407.31,73.33 408.18,73.32 409.06,73.32 409.94,73.31 410.83,73.31 411.72,73.31 412.62,73.3 413.53,73.3 414.44,73.3 415.36,73.3 416.29,73.29 417.22,73.29 418.16,73.29 419.1,73.29 420.05,73.29 421,73.29 421.96,73.29 422.93,73.29 423.91,73.28 424.88,73.28 425.87,73.28 426.86,73.28 427.86,73.28 428.86,73.28 429.87,73.28 430.89,73.28 431.91,73.28 432.94,73.28 433.97,73.28 435.01,73.28 436.06,73.28 437.11,73.28 438.17,73.28 439.23,73.28 440.31,73.28 441.38,73.28 442.46,73.28 443.55,73.28 444.65,73.28 445.75,73.28 446.86,73.28 447.97,73.28 449.09,73.28 450.21,73.28 451.34,73.28 452.48,73.28 453.62,73.28 454.77,73.28 455.93,73.28 457.09,73.28 458.26,73.28 459.43,73.28 460.61,73.28 461.8,73.28 462.99,73.28 464.19,73.28 465.39,73.28 466.6,73.28 467.82,73.28 469.04,73.28 470.27,73.28 471.5,73.28 472.74,73.28 473.99,73.28 475.24,73.28 476.5,73.28 477.76,73.28 479.03,73.28 480.31,73.28 481.59,73.28 482.88,73.28 484.18,73.28 485.48,73.28 486.78,73.28 488.1,73.28 489.42,73.28 490.74,73.28 492.07,73.28 493.41,73.28 494.75,73.28 496.1,73.28 497.46,73.28 498.82,73.28 500.19,73.28 501.56,73.28 502.94,73.28 504.33,73.28 505.72,73.28 507.12,73.28 508.52,73.28 509.93,73.28 511.35,73.28 512.77,73.28 514.2,73.28 515.63,73.28 517.07,73.28 518.52,73.28 519.97,73.28" fill="none" stroke="#000" stroke-width="1.5" stroke-linejoin="round" stroke-dasharray="6,6.2"/>
<polyline points="345.3,158.8 345.3,158.75 345.31,158.58 345.33,158.31 345.35,157.93 345.38,157.45 345.41,156.87 345.45,156.19 345.49,155.43 345.55,154.57 345.6,153.63 345.67,152.62 345.74,151.54 345.81,150.4 345.89,149.2 345.98,147.95 346.08,146.65 346.18,145.32 346.28,143.95 346.39,142.55 346.51,141.14 346.64,139.71 346.77,138.26 346.9,136.81 347.05,135.36 347.2,133.91 347.35,132.47 347.51,131.03 347.68,129.61 347.85,128.2 348.03,126.8 348.21,125.43 348.41,124.07 348.6,122.74 348.81,121.43 349.01,120.14 349.23,118.88 349.45,117.65 349.68,116.44 349.91,115.26 350.15,114.11 350.4,112.98 350.65,111.88 350.91,110.81 351.17,109.76 351.44,108.75 351.72,107.75 352,106.79 352.29,105.85 352.58,104.94 352.88,104.05 353.19,103.19 353.5,102.35 353.82,101.53 354.14,100.74 354.47,99.96 354.81,99.22 355.15,98.49 355.5,97.78 355.86,97.09 356.22,96.43 356.58,95.78 356.96,95.15 357.34,94.53 357.72,93.94 358.11,93.36 358.51,92.8 358.91,92.26 359.32,91.72 359.74,91.21 360.16,90.71 360.59,90.22 361.02,89.75 361.46,89.29 361.91,88.84 362.36,88.41 362.82,87.98 363.28,87.57 363.75,87.17 364.23,86.78 364.71,86.4 365.2,86.03 365.69,85.67 366.19,85.32 366.7,84.98 367.21,84.65 367.73,84.33 368.25,84.02 368.78,83.71 369.32,83.41 369.86,83.12 370.41,82.84 370.97,82.56 371.53,82.29 372.1,82.03 372.67,81.77 373.25,81.52 373.83,81.28 374.42,81.04 375.02,80.81 375.62,80.58 376.23,80.36 376.85,80.15 377.47,79.94 378.1,79.73 378.73,79.53 379.37,79.34 380.02,79.14 380.67,78.96 381.33,78.77 381.99,78.6 382.66,78.42 383.34,78.25 384.02,78.08 384.71,77.92 385.4,77.76 386.11,77.61 386.81,77.45 387.52,77.3 388.24,77.16 388.97,77.01 389.7,76.87 390.44,76.74 391.18,76.6 391.93,76.47 392.68,76.34 393.44,76.22 394.21,76.09 394.98,75.97 395.76,75.86 396.55,75.74 397.34,75.63 398.14,75.51 398.94,75.41 399.75,75.3 400.57,75.19 401.39,75.09 402.22,74.99 403.05,74.89 403.89,74.79 404.74,74.7 405.59,74.61 406.45,74.52 407.31,74.43 408.18,74.34 409.06,74.25 409.94,74.17 410.83,74.08 411.72,74 412.62,73.92 413.53,73.84 414.44,73.76 415.36,73.69 416.29,73.61 417.22,73.54 418.16,73.47 419.1,73.4 420.05,73.33 421,73.26 421.96,73.19 422.93,73.13 423.91,73.06 424.88,73 425.87,72.93 426.86,72.87 427.86,72.81 428.86,72.75 429.87,72.69 430.89,72.64 431.91,72.58 432.94,72.52 433.97,72.47 435.01,72.42 436.06,72.36 437.11,72.31 438.17,72.26 439.23,72.21 440.31,72.16 441.38,72.11 442.46,72.06 443.55,72.01 444.65,71.97 445.75,71.92 446.86,71.87 447.97,71.83 449.09,71.79 450.21,71.74 451.34,71.7 452.48,71.66 453.62,71.62 454.77,71.58 455.93,71.54 457.09,71.5 458.26,71.46 459.43,71.42 460.61,71.38 461.8,71.34 462.99,71.31 464.19,71.27 465.39,71.23 466.6,71.2 467.82,71.16 469.04,71.13 470.27,71.1 471.5,71.06 472.74,71.03 473.99,71 475.24,70.96 476.5,70.93 477.76,70.9 479.03,70.87 480.31,70.84 481.59,70.81 482.88,70.78 484.18,70.75 485.48,70.72 486.78,70.7 488.1,70.67 489.42,70.64 490.74,70.61 492.07,70.59 493.41,70.56 494.75,70.53 496.1,70.51 497.46,70.48 498.82,70.46 500.19,70.43 501.56,70.41 502.94,70.38 504.33,70.36 505.72,70.34 507.12,70.31 508.52,70.29 509.93,70.27 511.35,70.24 512.77,70.22 514.2,70.2 515.63,70.18 517.07,70.16 518.52,70.14 519.97,70.11" fill="none" stroke="#000" stroke-width="1.5" stroke-linejoin="round"/>
<polyline points="345.3,158.8 345.3,158.74 345.31,158.57 345.33,158.28 345.35,157.88 345.38,157.36 345.41,156.74 345.45,156 345.49,155.15 345.55,154.2 345.6,153.14 345.67,151.99 345.74,150.73 345.81,149.38 345.89,147.94 345.98,146.41 346.08,144.79 346.18,143.1 346.28,141.32 346.39,139.48 346.51,137.57 346.64,135.59 346.77,133.55 346.9,131.46 347.05,129.32 347.2,127.14 347.35,124.91 347.51,122.65 347.68,120.35 347.85,118.03 348.03,115.69 348.21,113.33 348.41,110.96 348.6,108.58 348.81,106.19 349.01,103.8 349.23,101.42 349.45,99.05 349.68,96.68 349.91,94.33 350.15,92 350.4,89.7 350.65,87.41 350.91,85.16 351.17,82.94 351.44,80.75 351.72,78.59 352,76.48 352.29,74.4 352.58,72.37 352.88,70.38 353.19,68.44 353.5,66.54 353.82,64.69 354.14,62.89 354.47,61.14 354.81,59.45 355.15,57.8 355.5,56.2 355.86,54.65 356.22,53.16 356.58,51.72 356.96,50.33 357.34,48.99 357.72,47.7 358.11,46.46 358.51,45.27 358.91,44.12 359.32,43.03 359.74,41.98 360.16,40.98 360.59,40.03 361.02,39.12 361.46,38.25 361.91,37.42 362.36,36.63 362.82,35.89 363.28,35.18 363.75,34.51 364.23,33.87 364.71,33.27 365.2,32.7 365.69,32.16 366.19,31.66 366.7,31.18 367.21,30.73 367.73,30.31 368.25,29.91 368.78,29.54 369.32,29.19 369.86,28.86 370.41,28.56 370.97,28.27 371.53,28 372.1,27.75 372.67,27.52 373.25,27.31 373.83,27.1 374.42,26.92 375.02,26.74 375.62,26.58 376.23,26.43 376.85,26.3 377.47,26.17 378.1,26.05 378.73,25.94 379.37,25.84 380.02,25.75 380.67,25.66 381.33,25.58 381.99,25.51 382.66,25.45 383.34,25.39 384.02,25.33 384.71,25.28 385.4,25.23 386.11,25.19 386.81,25.15 387.52,25.12 388.24,25.09 388.97,25.06 389.7,25.03 390.44,25.01 391.18,24.98 391.93,24.96 392.68,24.95 393.44,24.93 394.21,24.91 394.98,24.9 395.76,24.89 396.55,24.88 397.34,24.87 398.14,24.86 398.94,24.85 399.75,24.85 400.57,24.84 401.39,24.83 402.22,24.83 403.05,24.82 403.89,24.82 404.74,24.82 405.59,24.81 406.45,24.81 407.31,24.81 408.18,24.8 409.06,24.8 409.94,24.8 410.83,24.8 411.72,24.8 412.62,24.8 413.53,24.8 414.44,24.79 415.36,24.79 416.29,24.79 417.22,24.79 418.16,24.79 419.1,24.79 420.05,24.79 421,24.79 421.96,24.79 422.93,24.79 423.91,24.79 424.88,24.79 425.87,24.79 426.86,24.79 427.86,24.79 428.86,24.79 429.87,24.79 430.89,24.79 431.91,24.79 432.94,24.79 433.97,24.79 435.01,24.79 436.06,24.79 437.11,24.79 438.17,24.79 439.23,24.79 440.31,24.79 441.38,24.79 442.46,24.79 443.55,24.79 444.65,24.79 445.75,24.79 446.86,24.79 447.97,24.79 449.09,24.79 450.21,24.79 451.34,24.79 452.48,24.79 453.62,24.79 454.77,24.79 455.93,24.79 457.09,24.79 458.26,24.79 459.43,24.79 460.61,24.79 461.8,24.79 462.99,24.79 464.19,24.79 465.39,24.79 466.6,24.79 467.82,24.79 469.04,24.79 470.27,24.79 471.5,24.79 472.74,24.79 473.99,24.79 475.24,24.79 476.5,24.79 477.76,24.79 479.03,24.79 480.31,24.79 481.59,24.79 482.88,24.79 484.18,24.79 485.48,24.79 486.78,24.79 488.1,24.79 489.42,24.79 490.74,24.79 492.07,24.79 493.41,24.79 494.75,24.79 496.1,24.79 497.46,24.79 498.82,24.79 500.19,24.79 501.56,24.79 502.94,24.79 504.33,24.79 505.72,24.79 507.12,24.79 508.52,24.79 509.93,24.79 511.35,24.79 512.77,24.79 514.2,24.79 515.63,24.79 517.07,24.79 518.52,24.79 519.97,24.79" fill="none" stroke="#ff0000" stroke-width="1.5" stroke-linejoin="round" stroke-dasharray="6,6.2"/>
<polyline points="345.3,158.8 345.3,158.71 345.31,158.43 345.33,157.97 345.35,157.33 345.38,156.51 345.41,155.53 345.45,154.38 345.49,153.09 345.55,151.64 345.6,150.07 345.67,148.37 345.74,146.56 345.81,144.64 345.89,142.63 345.98,140.55 346.08,138.39 346.18,136.18 346.28,133.92 346.39,131.62 346.51,129.29 346.64,126.94 346.77,124.57 346.9,122.21 347.05,119.84 347.2,117.49 347.35,115.15 347.51,112.83 347.68,110.53 347.85,108.26 348.03,106.03 348.21,103.83 348.41,101.66 348.6,99.54 348.81,97.46 349.01,95.43 349.23,93.43 349.45,91.49 349.68,89.59 349.91,87.73 350.15,85.93 350.4,84.16 350.65,82.45 350.91,80.78 351.17,79.16 351.44,77.58 351.72,76.04 352,74.55 352.29,73.1 352.58,71.7 352.88,70.33 353.19,69 353.5,67.71 353.82,66.46 354.14,65.25 354.47,64.07 354.81,62.93 355.15,61.82 355.5,60.75 355.86,59.7 356.22,58.69 356.58,57.71 356.96,56.75 357.34,55.83 357.72,54.93 358.11,54.06 358.51,53.21 358.91,52.39 359.32,51.59 359.74,50.82 360.16,50.06 360.59,49.33 361.02,48.62 361.46,47.93 361.91,47.26 362.36,46.61 362.82,45.98 363.28,45.37 363.75,44.77 364.23,44.19 364.71,43.62 365.2,43.07 365.69,42.54 366.19,42.02 366.7,41.51 367.21,41.02 367.73,40.54 368.25,40.07 368.78,39.62 369.32,39.18 369.86,38.75 370.41,38.33 370.97,37.92 371.53,37.52 372.1,37.13 372.67,36.75 373.25,36.39 373.83,36.03 374.42,35.67 375.02,35.33 375.62,35 376.23,34.67 376.85,34.36 377.47,34.05 378.1,33.74 378.73,33.45 379.37,33.16 380.02,32.88 380.67,32.6 381.33,32.33 381.99,32.07 382.66,31.81 383.34,31.56 384.02,31.32 384.71,31.08 385.4,30.85 386.11,30.62 386.81,30.39 387.52,30.17 388.24,29.96 388.97,29.75 389.7,29.55 390.44,29.34 391.18,29.15 391.93,28.96 392.68,28.77 393.44,28.58 394.21,28.4 394.98,28.23 395.76,28.05 396.55,27.88 397.34,27.72 398.14,27.56 398.94,27.4 399.75,27.24 400.57,27.09 401.39,26.94 402.22,26.79 403.05,26.64 403.89,26.5 404.74,26.36 405.59,26.23 406.45,26.09 407.31,25.96 408.18,25.84 409.06,25.71 409.94,25.59 410.83,25.46 411.72,25.34 412.62,25.23 413.53,25.11 414.44,25 415.36,24.89 416.29,24.78 417.22,24.67 418.16,24.57 419.1,24.47 420.05,24.36 421,24.26 421.96,24.17 422.93,24.07 423.91,23.98 424.88,23.88 425.87,23.79 426.86,23.7 427.86,23.61 428.86,23.53 429.87,23.44 430.89,23.36 431.91,23.28 432.94,23.19 433.97,23.11 435.01,23.04 436.06,22.96 437.11,22.88 438.17,22.81 439.23,22.73 440.31,22.66 441.38,22.59 442.46,22.52 443.55,22.45 444.65,22.38 445.75,22.32 446.86,22.25 447.97,22.19 449.09,22.12 450.21,22.06 451.34,22 452.48,21.94 453.62,21.88 454.77,21.82 455.93,21.76 457.09,21.7 458.26,21.64 459.43,21.59 460.61,21.53 461.8,21.48 462.99,21.42 464.19,21.37 465.39,21.32 466.6,21.27 467.82,21.22 469.04,21.17 470.27,21.12 471.5,21.07 472.74,21.02 473.99,20.98 475.24,20.93 476.5,20.88 477.76,20.84 479.03,20.79 480.31,20.75 481.59,20.71 482.88,20.66 484.18,20.62 485.48,20.58 486.78,20.54 488.1,20.5 489.42,20.46 490.74,20.42 492.07,20.38 493.41,20.34 494.75,20.3 496.1,20.27 497.46,20.23 498.82,20.19 500.19,20.16 501.56,20.12 502.94,20.09 504.33,20.05 505.72,20.02 507.12,19.98 508.52,19.95 509.93,19.92 511.35,19.88 512.77,19.85 514.2,19.82 515.63,19.79 517.07,19.76 518.52,19.73 519.97,19.7" fill="none" stroke="#ff0000" stroke-width="1.5" stroke-linejoin="round"/>
<rect x="422.3" y="91.6" width="4.8" height="4.8" fill="#5a5a5a"/>
<text transform="translate(436.6,96.9) scale(1,1.06)" font-size="8.3" text-anchor="start">Ferulic acid</text>
<circle cx="424.7" cy="104.35" r="2.85" fill="#f52c2c"/>
<text transform="translate(436.6,107.25) scale(1,1.06)" font-size="8.3" text-anchor="start">Liquiritin</text>
<line x1="415.8" y1="114.7" x2="433.6" y2="114.7" stroke="#000" stroke-width="1.5" stroke-linecap="butt" stroke-dasharray="6,5.8"/>
<text transform="translate(436.6,117.6) scale(1,1.06)" font-size="8.3" text-anchor="start">PFO fit for Ferulic acid</text>
<line x1="415.8" y1="125.05" x2="433.6" y2="125.05" stroke="#000" stroke-width="1.5" stroke-linecap="butt"/>
<text transform="translate(436.6,127.95) scale(1,1.06)" font-size="8.3" text-anchor="start">PSO fit for Ferulic acid</text>
<line x1="415.8" y1="135.4" x2="433.6" y2="135.4" stroke="#ff0000" stroke-width="1.5" stroke-linecap="butt" stroke-dasharray="6,5.8"/>
<text transform="translate(436.6,138.3) scale(1,1.06)" font-size="8.3" text-anchor="start">PFO fit for Liquiritin</text>
<line x1="415.8" y1="145.75" x2="433.6" y2="145.75" stroke="#ff0000" stroke-width="1.5" stroke-linecap="butt"/>
<text transform="translate(436.6,148.65) scale(1,1.06)" font-size="8.3" text-anchor="start">PSO fit for Liquiritin</text>
<rect x="35.6" y="239.5" width="185.8" height="149.9" fill="none" stroke="#000" stroke-width="1.3"/>
<line x1="35.6" y1="380.7" x2="38.6" y2="380.7" stroke="#000" stroke-width="1.1" stroke-linecap="butt"/>
<text x="32.2" y="384.3" font-size="9.8" text-anchor="end">-1.0</text>
<line x1="35.6" y1="371.88" x2="37.4" y2="371.88" stroke="#000" stroke-width="1.1" stroke-linecap="butt"/>
<line x1="35.6" y1="363.05" x2="38.6" y2="363.05" stroke="#000" stroke-width="1.1" stroke-linecap="butt"/>
<text x="32.2" y="366.65" font-size="9.8" text-anchor="end">-0.8</text>
<line x1="35.6" y1="354.23" x2="37.4" y2="354.23" stroke="#000" stroke-width="1.1" stroke-linecap="butt"/>
<line x1="35.6" y1="345.4" x2="38.6" y2="345.4" stroke="#000" stroke-width="1.1" stroke-linecap="butt"/>
<text x="32.2" y="349" font-size="9.8" text-anchor="end">-0.6</text>
<line x1="35.6" y1="336.57" x2="37.4" y2="336.57" stroke="#000" stroke-width="1.1" stroke-linecap="butt"/>
<line x1="35.6" y1="327.75" x2="38.6" y2="327.75" stroke="#000" stroke-width="1.1" stroke-linecap="butt"/>
<text x="32.2" y="331.35" font-size="9.8" text-anchor="end">-0.4</text>
<line x1="35.6" y1="318.93" x2="37.4" y2="318.93" stroke="#000" stroke-width="1.1" stroke-linecap="butt"/>
<line x1="35.6" y1="310.1" x2="38.6" y2="310.1" stroke="#000" stroke-width="1.1" stroke-linecap="butt"/>
<text x="32.2" y="313.7" font-size="9.8" text-anchor="end">-0.2</text>
<line x1="35.6" y1="301.27" x2="37.4" y2="301.27" stroke="#000" stroke-width="1.1" stroke-linecap="butt"/>
<line x1="35.6" y1="292.45" x2="38.6" y2="292.45" stroke="#000" stroke-width="1.1" stroke-linecap="butt"/>
<text x="32.2" y="296.05" font-size="9.8" text-anchor="end">0.0</text>
<line x1="35.6" y1="283.62" x2="37.4" y2="283.62" stroke="#000" stroke-width="1.1" stroke-linecap="butt"/>
<line x1="35.6" y1="274.8" x2="38.6" y2="274.8" stroke="#000" stroke-width="1.1" stroke-linecap="butt"/>
<text x="32.2" y="278.4" font-size="9.8" text-anchor="end">0.2</text>
<line x1="35.6" y1="265.98" x2="37.4" y2="265.98" stroke="#000" stroke-width="1.1" stroke-linecap="butt"/>
<line x1="35.6" y1="257.15" x2="38.6" y2="257.15" stroke="#000" stroke-width="1.1" stroke-linecap="butt"/>
<text x="32.2" y="260.75" font-size="9.8" text-anchor="end">0.4</text>
<line x1="35.6" y1="248.32" x2="37.4" y2="248.32" stroke="#000" stroke-width="1.1" stroke-linecap="butt"/>
<line x1="35.6" y1="239.5" x2="38.6" y2="239.5" stroke="#000" stroke-width="1.1" stroke-linecap="butt"/>
<text x="32.2" y="243.1" font-size="9.8" text-anchor="end">0.6</text>
<line x1="38.8" y1="389.4" x2="38.8" y2="386.4" stroke="#000" stroke-width="1.1" stroke-linecap="butt"/>
<text x="38.8" y="400.8" font-size="9.8" text-anchor="middle">0</text>
<line x1="55.38" y1="389.4" x2="55.38" y2="387.6" stroke="#000" stroke-width="1.1" stroke-linecap="butt"/>
<line x1="71.95" y1="389.4" x2="71.95" y2="386.4" stroke="#000" stroke-width="1.1" stroke-linecap="butt"/>
<text x="71.95" y="400.8" font-size="9.8" text-anchor="middle">50</text>
<line x1="88.53" y1="389.4" x2="88.53" y2="387.6" stroke="#000" stroke-width="1.1" stroke-linecap="butt"/>
<line x1="105.1" y1="389.4" x2="105.1" y2="386.4" stroke="#000" stroke-width="1.1" stroke-linecap="butt"/>
<text x="105.1" y="400.8" font-size="9.8" text-anchor="middle">100</text>
<line x1="121.67" y1="389.4" x2="121.67" y2="387.6" stroke="#000" stroke-width="1.1" stroke-linecap="butt"/>
<line x1="138.25" y1="389.4" x2="138.25" y2="386.4" stroke="#000" stroke-width="1.1" stroke-linecap="butt"/>
<text x="138.25" y="400.8" font-size="9.8" text-anchor="middle">150</text>
<line x1="154.82" y1="389.4" x2="154.82" y2="387.6" stroke="#000" stroke-width="1.1" stroke-linecap="butt"/>
<line x1="171.4" y1="389.4" x2="171.4" y2="386.4" stroke="#000" stroke-width="1.1" stroke-linecap="butt"/>
<text x="171.4" y="400.8" font-size="9.8" text-anchor="middle">200</text>
<line x1="187.98" y1="389.4" x2="187.98" y2="387.6" stroke="#000" stroke-width="1.1" stroke-linecap="butt"/>
<line x1="204.55" y1="389.4" x2="204.55" y2="386.4" stroke="#000" stroke-width="1.1" stroke-linecap="butt"/>
<text x="204.55" y="400.8" font-size="9.8" text-anchor="middle">250</text>
<line x1="221.12" y1="389.4" x2="221.12" y2="387.6" stroke="#000" stroke-width="1.1" stroke-linecap="butt"/>
<text transform="translate(128.4,416.6) scale(1,1.06)" font-size="9.9" text-anchor="middle">Time (min)</text>
<text transform="translate(11.1,314.5) rotate(-90) scale(1,1.1)" font-size="9.7" text-anchor="middle">ln(q<tspan font-size="6.2" dy="2">e</tspan><tspan dy="-2"> − q</tspan><tspan font-size="6.2" dy="2">t</tspan><tspan dy="-2">)(mg/g)</tspan></text>
<text x="198" y="253.4" font-size="9.6" text-anchor="start">(C)</text>
<rect x="46.34" y="273.28" width="4.8" height="4.8" fill="#5a5a5a"/>
<rect x="56.29" y="281.23" width="4.8" height="4.8" fill="#5a5a5a"/>
<rect x="66.23" y="287.23" width="4.8" height="4.8" fill="#5a5a5a"/>
<rect x="76.18" y="290.58" width="4.8" height="4.8" fill="#5a5a5a"/>
<rect x="115.96" y="303.73" width="4.8" height="4.8" fill="#5a5a5a"/>
<rect x="155.74" y="318.29" width="4.8" height="4.8" fill="#5a5a5a"/>
<rect x="195.52" y="334.18" width="4.8" height="4.8" fill="#5a5a5a"/>
<circle cx="48.74" cy="257.15" r="2.85" fill="#f52c2c"/>
<circle cx="58.69" cy="269.77" r="2.85" fill="#f52c2c"/>
<circle cx="68.63" cy="276.92" r="2.85" fill="#f52c2c"/>
<circle cx="78.58" cy="297.48" r="2.85" fill="#f52c2c"/>
<circle cx="118.36" cy="314.07" r="2.85" fill="#f52c2c"/>
<circle cx="158.14" cy="358.37" r="2.85" fill="#f52c2c"/>
<circle cx="197.92" cy="374.17" r="2.85" fill="#f52c2c"/>
<polygon points="48.74,267.12 51.84,272.82 45.64,272.82" fill="#1666ee"/>
<polygon points="58.69,270.12 61.79,275.82 55.59,275.82" fill="#1666ee"/>
<polygon points="68.63,275.41 71.73,281.11 65.53,281.11" fill="#1666ee"/>
<polygon points="78.58,279.82 81.68,285.52 75.48,285.52" fill="#1666ee"/>
<polygon points="118.36,287.77 121.46,293.47 115.26,293.47" fill="#1666ee"/>
<polygon points="158.14,297.83 161.24,303.53 155.04,303.53" fill="#1666ee"/>
<polygon points="197.92,307.89 201.02,313.59 194.82,313.59" fill="#1666ee"/>
<polygon points="48.74,266.56 51.84,261.16 45.64,261.16" fill="#10a050"/>
<polygon points="58.69,280.42 61.79,275.02 55.59,275.02" fill="#10a050"/>
<polygon points="68.63,283.95 71.73,278.55 65.53,278.55" fill="#10a050"/>
<polygon points="78.58,298.24 81.68,292.84 75.48,292.84" fill="#10a050"/>
<polygon points="118.36,325.43 121.46,320.03 115.26,320.03" fill="#10a050"/>
<polygon points="158.14,345.37 161.24,339.97 155.04,339.97" fill="#10a050"/>
<polygon points="197.92,365.67 201.02,360.27 194.82,360.27" fill="#10a050"/>
<polygon points="48.74,242.12 51.95,245.32 48.74,248.52 45.54,245.32" fill="#b469ee"/>
<polygon points="58.69,247.77 61.89,250.97 58.69,254.17 55.49,250.97" fill="#b469ee"/>
<polygon points="68.63,251.3 71.83,254.5 68.63,257.7 65.43,254.5" fill="#b469ee"/>
<polygon points="78.58,255.72 81.78,258.92 78.58,262.12 75.38,258.92" fill="#b469ee"/>
<polygon points="118.36,268.07 121.56,271.27 118.36,274.47 115.16,271.27" fill="#b469ee"/>
<polygon points="158.14,278.22 161.34,281.42 158.14,284.62 154.94,281.42" fill="#b469ee"/>
<polygon points="197.92,288.15 201.12,291.35 197.92,294.55 194.72,291.35" fill="#b469ee"/>
<line x1="48.74" y1="279.48" x2="197.92" y2="336.57" stroke="#000" stroke-width="1.5" stroke-linecap="butt"/>
<line x1="48.74" y1="263.33" x2="197.92" y2="380.7" stroke="#ff0000" stroke-width="1.5" stroke-linecap="butt"/>
<line x1="48.74" y1="272.15" x2="197.92" y2="312.75" stroke="#0000ff" stroke-width="1.5" stroke-linecap="butt"/>
<line x1="48.74" y1="271.27" x2="197.92" y2="366.32" stroke="#00dd00" stroke-width="1.5" stroke-linecap="butt"/>
<line x1="48.74" y1="247.97" x2="197.92" y2="291.74" stroke="#a94ff0" stroke-width="1.5" stroke-linecap="butt"/>
<rect x="53.3" y="324.8" width="4.8" height="4.8" fill="#5a5a5a"/>
<text x="69.9" y="330.5" font-size="9.8" text-anchor="start">Harpagide</text>
<circle cx="55.7" cy="339.65" r="2.85" fill="#f52c2c"/>
<text x="69.9" y="342.95" font-size="9.8" text-anchor="start">Chlorogenic acid</text>
<polygon points="55.7,348.3 58.8,354 52.6,354" fill="#1666ee"/>
<text x="69.9" y="355.4" font-size="9.8" text-anchor="start">Ferulic acid</text>
<polygon points="55.7,368.05 58.8,362.65 52.6,362.65" fill="#10a050"/>
<text x="69.9" y="367.85" font-size="9.8" text-anchor="start">Liquiritin</text>
<polygon points="55.7,373.8 58.9,377 55.7,380.2 52.5,377" fill="#b469ee"/>
<text x="69.9" y="380.3" font-size="9.8" text-anchor="start">Harpagoside</text>
<path d="M340.5,267.40000000000003 V239.4 H525.7 V267.40000000000003 M340.5,271.6 V388.3 H525.7 V271.6" fill="none" stroke="#000" stroke-width="1.1"/>
<line x1="337.3" y1="269.4" x2="343.5" y2="266.6" stroke="#000" stroke-width="1.0" stroke-linecap="butt"/>
<line x1="337.3" y1="272" x2="343.5" y2="269.2" stroke="#000" stroke-width="1.0" stroke-linecap="butt"/>
<line x1="522.5" y1="269.4" x2="528.7" y2="266.6" stroke="#000" stroke-width="1.0" stroke-linecap="butt"/>
<line x1="522.5" y1="272" x2="528.7" y2="269.2" stroke="#000" stroke-width="1.0" stroke-linecap="butt"/>
<text x="337.4" y="392" font-size="9.8" text-anchor="end">0</text>
<line x1="340.5" y1="379.44" x2="342.3" y2="379.44" stroke="#000" stroke-width="1.1" stroke-linecap="butt"/>
<line x1="340.5" y1="370.57" x2="343.5" y2="370.57" stroke="#000" stroke-width="1.1" stroke-linecap="butt"/>
<text x="337.4" y="374.27" font-size="9.8" text-anchor="end">15</text>
<line x1="340.5" y1="361.71" x2="342.3" y2="361.71" stroke="#000" stroke-width="1.1" stroke-linecap="butt"/>
<line x1="340.5" y1="352.84" x2="343.5" y2="352.84" stroke="#000" stroke-width="1.1" stroke-linecap="butt"/>
<text x="337.4" y="356.54" font-size="9.8" text-anchor="end">30</text>
<line x1="340.5" y1="343.98" x2="342.3" y2="343.98" stroke="#000" stroke-width="1.1" stroke-linecap="butt"/>
<line x1="340.5" y1="335.11" x2="343.5" y2="335.11" stroke="#000" stroke-width="1.1" stroke-linecap="butt"/>
<text x="337.4" y="338.81" font-size="9.8" text-anchor="end">45</text>
<line x1="340.5" y1="326.25" x2="342.3" y2="326.25" stroke="#000" stroke-width="1.1" stroke-linecap="butt"/>
<line x1="340.5" y1="317.38" x2="343.5" y2="317.38" stroke="#000" stroke-width="1.1" stroke-linecap="butt"/>
<text x="337.4" y="321.08" font-size="9.8" text-anchor="end">60</text>
<line x1="340.5" y1="308.51" x2="342.3" y2="308.51" stroke="#000" stroke-width="1.1" stroke-linecap="butt"/>
<line x1="340.5" y1="299.65" x2="343.5" y2="299.65" stroke="#000" stroke-width="1.1" stroke-linecap="butt"/>
<text x="337.4" y="303.35" font-size="9.8" text-anchor="end">75</text>
<line x1="340.5" y1="290.79" x2="342.3" y2="290.79" stroke="#000" stroke-width="1.1" stroke-linecap="butt"/>
<line x1="340.5" y1="281.92" x2="343.5" y2="281.92" stroke="#000" stroke-width="1.1" stroke-linecap="butt"/>
<text x="337.4" y="285.62" font-size="9.8" text-anchor="end">90</text>
<line x1="340.5" y1="273.06" x2="342.3" y2="273.06" stroke="#000" stroke-width="1.1" stroke-linecap="butt"/>
<line x1="340.5" y1="263" x2="342.3" y2="263" stroke="#000" stroke-width="1.1" stroke-linecap="butt"/>
<line x1="340.5" y1="257.1" x2="343.5" y2="257.1" stroke="#000" stroke-width="1.1" stroke-linecap="butt"/>
<text x="337.4" y="260.7" font-size="9.8" text-anchor="end">1000</text>
<line x1="340.5" y1="251.2" x2="342.3" y2="251.2" stroke="#000" stroke-width="1.1" stroke-linecap="butt"/>
<line x1="340.5" y1="245.3" x2="343.5" y2="245.3" stroke="#000" stroke-width="1.1" stroke-linecap="butt"/>
<text x="337.4" y="248.9" font-size="9.8" text-anchor="end">2000</text>
<text x="340.5" y="400.7" font-size="9.8" text-anchor="middle">0</text>
<line x1="357.34" y1="388.3" x2="357.34" y2="386.5" stroke="#000" stroke-width="1.1" stroke-linecap="butt"/>
<line x1="374.18" y1="388.3" x2="374.18" y2="385.3" stroke="#000" stroke-width="1.1" stroke-linecap="butt"/>
<text x="374.18" y="400.7" font-size="9.8" text-anchor="middle">50</text>
<line x1="391.02" y1="388.3" x2="391.02" y2="386.5" stroke="#000" stroke-width="1.1" stroke-linecap="butt"/>
<line x1="407.86" y1="388.3" x2="407.86" y2="385.3" stroke="#000" stroke-width="1.1" stroke-linecap="butt"/>
<text x="407.86" y="400.7" font-size="9.8" text-anchor="middle">100</text>
<line x1="424.7" y1="388.3" x2="424.7" y2="386.5" stroke="#000" stroke-width="1.1" stroke-linecap="butt"/>
<line x1="441.54" y1="388.3" x2="441.54" y2="385.3" stroke="#000" stroke-width="1.1" stroke-linecap="butt"/>
<text x="441.54" y="400.7" font-size="9.8" text-anchor="middle">150</text>
<line x1="458.38" y1="388.3" x2="458.38" y2="386.5" stroke="#000" stroke-width="1.1" stroke-linecap="butt"/>
<line x1="475.22" y1="388.3" x2="475.22" y2="385.3" stroke="#000" stroke-width="1.1" stroke-linecap="butt"/>
<text x="475.22" y="400.7" font-size="9.8" text-anchor="middle">200</text>
<line x1="492.06" y1="388.3" x2="492.06" y2="386.5" stroke="#000" stroke-width="1.1" stroke-linecap="butt"/>
<line x1="508.9" y1="388.3" x2="508.9" y2="385.3" stroke="#000" stroke-width="1.1" stroke-linecap="butt"/>
<text x="508.9" y="400.7" font-size="9.8" text-anchor="middle">250</text>
<text transform="translate(432.9,416) scale(1,1.06)" font-size="9.9" text-anchor="middle">Time (min)</text>
<text transform="translate(312.3,311.0) rotate(-90) scale(1,1.15)" font-size="9.7" text-anchor="middle">t/q<tspan font-size="6.2" dy="2">t</tspan><tspan dy="-2">(min×g/mg)</tspan></text>
<text x="351" y="253.3" font-size="9.6" text-anchor="start">(D)</text>
<polygon points="350.6,262.99 353.7,268.69 347.5,268.69" fill="#1666ee"/>
<polygon points="360.71,261.14 363.81,266.84 357.61,266.84" fill="#1666ee"/>
<polygon points="370.81,260.56 373.91,266.26 367.71,266.26" fill="#1666ee"/>
<polygon points="380.92,258.7 384.02,264.4 377.82,264.4" fill="#1666ee"/>
<polygon points="421.33,255.8 424.43,261.5 418.23,261.5" fill="#1666ee"/>
<polygon points="461.75,249.42 464.85,255.12 458.65,255.12" fill="#1666ee"/>
<polygon points="502.16,243.62 505.26,249.32 499.06,249.32" fill="#1666ee"/>
<polygon points="350.6,269.13 353.7,263.73 347.5,263.73" fill="#10a050"/>
<polygon points="360.71,268.67 363.81,263.27 357.61,263.27" fill="#10a050"/>
<polygon points="370.81,268.32 373.91,262.92 367.71,262.92" fill="#10a050"/>
<polygon points="380.92,267.86 384.02,262.46 377.82,262.46" fill="#10a050"/>
<polygon points="421.33,265.3 424.43,259.9 418.23,259.9" fill="#10a050"/>
<polygon points="461.75,262.17 464.85,256.77 458.65,256.77" fill="#10a050"/>
<polygon points="502.16,260.32 505.26,254.92 499.06,254.92" fill="#10a050"/>
<rect x="348.2" y="365.81" width="4.8" height="4.8" fill="#5a5a5a"/>
<rect x="358.31" y="359.9" width="4.8" height="4.8" fill="#5a5a5a"/>
<rect x="368.41" y="351.62" width="4.8" height="4.8" fill="#5a5a5a"/>
<rect x="378.52" y="344.29" width="4.8" height="4.8" fill="#5a5a5a"/>
<rect x="418.93" y="318.64" width="4.8" height="4.8" fill="#5a5a5a"/>
<rect x="459.35" y="290.16" width="4.8" height="4.8" fill="#5a5a5a"/>
<rect x="499.76" y="270.89" width="4.8" height="4.8" fill="#5a5a5a"/>
<polygon points="350.6,366.19 353.8,369.39 350.6,372.59 347.4,369.39" fill="#b469ee"/>
<polygon points="360.71,361.81 363.91,365.01 360.71,368.21 357.51,365.01" fill="#b469ee"/>
<polygon points="370.81,354.72 374.01,357.92 370.81,361.12 367.61,357.92" fill="#b469ee"/>
<polygon points="380.92,348.22 384.12,351.42 380.92,354.62 377.72,351.42" fill="#b469ee"/>
<polygon points="421.33,325.17 424.53,328.37 421.33,331.57 418.13,328.37" fill="#b469ee"/>
<polygon points="461.75,301.77 464.95,304.97 461.75,308.17 458.55,304.97" fill="#b469ee"/>
<polygon points="502.16,280.97 505.36,284.17 502.16,287.37 498.96,284.17" fill="#b469ee"/>
<circle cx="350.6" cy="372.82" r="2.85" fill="#f52c2c"/>
<circle cx="360.71" cy="368.92" r="2.85" fill="#f52c2c"/>
<circle cx="370.81" cy="363.71" r="2.85" fill="#f52c2c"/>
<circle cx="380.92" cy="357.92" r="2.85" fill="#f52c2c"/>
<circle cx="421.33" cy="338.06" r="2.85" fill="#f52c2c"/>
<circle cx="461.75" cy="315.02" r="2.85" fill="#f52c2c"/>
<circle cx="502.16" cy="298.7" r="2.85" fill="#f52c2c"/>
<line x1="348.25" y1="266.2" x2="502.84" y2="248.1" stroke="#0000ff" stroke-width="1.5" stroke-linecap="butt"/>
<line x1="348.25" y1="267" x2="502.84" y2="257.7" stroke="#00dd00" stroke-width="1.5" stroke-linecap="butt"/>
<line x1="349.93" y1="368.21" x2="502.16" y2="271.4" stroke="#000" stroke-width="1.5" stroke-linecap="butt"/>
<line x1="349.93" y1="369.74" x2="502.16" y2="284.17" stroke="#a94ff0" stroke-width="1.5" stroke-linecap="butt"/>
<line x1="349.93" y1="372.46" x2="502.16" y2="298.35" stroke="#ff0000" stroke-width="1.5" stroke-linecap="butt"/>
<rect x="440.2" y="331" width="4.8" height="4.8" fill="#5a5a5a"/>
<text transform="translate(456,336.4) scale(1,1.03)" font-size="9.0" text-anchor="start">Harpagide</text>
<circle cx="442.6" cy="344.8" r="2.85" fill="#f52c2c"/>
<text transform="translate(456,347.8) scale(1,1.03)" font-size="9.0" text-anchor="start">Chlorogenic acid</text>
<polygon points="442.6,352.4 445.7,358.1 439.5,358.1" fill="#1666ee"/>
<text transform="translate(456,359.2) scale(1,1.03)" font-size="9.0" text-anchor="start">Ferulic acid</text>
<polygon points="442.6,371.1 445.7,365.7 439.5,365.7" fill="#10a050"/>
<text transform="translate(456,370.6) scale(1,1.03)" font-size="9.0" text-anchor="start">Liquiritin</text>
<polygon points="442.6,375.8 445.8,379 442.6,382.2 439.4,379" fill="#b469ee"/>
<text transform="translate(456,382) scale(1,1.03)" font-size="9.0" text-anchor="start">Harpagoside</text>
</svg>
</body></html>
